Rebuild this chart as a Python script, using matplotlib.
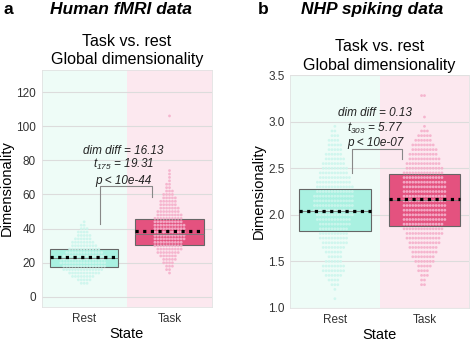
import numpy as np
import pandas as pd
import matplotlib
matplotlib.use("Agg")
import matplotlib.pyplot as plt
import seaborn as sns

plt.rcParams['font.family'] = ['Liberation Sans', 'DejaVu Sans']
plt.rcParams['mathtext.fontset'] = 'custom'
plt.rcParams['mathtext.it'] = 'Liberation Sans:italic'
plt.rcParams['mathtext.rm'] = 'Liberation Sans:italic'

# ---------------- data ----------------
states = ['Rest', 'Task']

# Human fMRI: swarm values (binned) and counts
fmri_rest_vals = [44, 42, 40, 38, 36, 34, 32, 30, 28, 26, 24, 22, 20, 18, 16, 14, 12, 10, 8]
fmri_rest_counts = [1, 2, 3, 4, 5, 6, 8, 9, 11, 13, 15, 16, 16, 15, 14, 11, 8, 5, 3]
fmri_task_vals = [106, 74, 72, 70, 68, 66, 64, 62, 60, 58, 56, 54, 52, 50, 48, 46, 44, 42, 40,
                  38, 36, 34, 32, 30, 28, 26, 24, 22, 20, 18, 16, 14]
fmri_task_counts = [1, 1, 1, 1, 1, 2, 2, 3, 4, 5, 6, 6, 7, 8, 9, 10, 10, 11, 11,
                    11, 11, 11, 10, 10, 9, 8, 6, 5, 4, 3, 2, 1]
fmri_q1 = [17.7, 30.4]
fmri_q3 = [27.9, 45.7]
fmri_median = [22.6, 36.9]
fmri_mean = [23.4, 38.6]

# NHP spiking: swarm values (binned) and counts
nhp_rest_vals = [2.95, 2.90, 2.85, 2.80, 2.75, 2.70, 2.65, 2.60, 2.55, 2.50, 2.45, 2.40, 2.35,
                 2.30, 2.25, 2.20, 2.15, 2.10, 2.05, 2.00, 1.95, 1.90, 1.85, 1.80, 1.75, 1.70,
                 1.65, 1.60, 1.55, 1.50, 1.45, 1.40, 1.35, 1.30, 1.25, 1.20, 1.10]
nhp_rest_counts = [1, 2, 3, 4, 5, 5, 6, 7, 8, 9, 10, 11, 12,
                   13, 13, 14, 14, 14, 14, 13, 12, 11, 10, 10, 10, 9,
                   8, 6, 5, 6, 8, 8, 6, 4, 3, 1, 1]
nhp_task_vals = [3.28, 3.05, 2.95, 2.90, 2.85, 2.80, 2.75, 2.70, 2.65, 2.60, 2.55, 2.50, 2.45,
                 2.40, 2.35, 2.30, 2.25, 2.20, 2.15, 2.10, 2.05, 2.00, 1.95, 1.90, 1.85, 1.80,
                 1.75, 1.70, 1.65, 1.60, 1.55, 1.50, 1.45, 1.40, 1.35, 1.30, 1.25]
nhp_task_counts = [2, 1, 1, 3, 5, 6, 8, 9, 10, 11, 12, 13, 14,
                   14, 15, 15, 15, 15, 15, 15, 15, 15, 15, 14, 14, 13,
                   12, 11, 10, 9, 8, 7, 5, 4, 3, 2, 2]
nhp_q1 = [1.826, 1.880]
nhp_q3 = [2.274, 2.434]
nhp_median = [2.04, 2.16]
nhp_mean = [2.044, 2.166]

fmri_text = ['dim diff = 16.13', r'$t_{175}$ = 19.31', 'p < 10e-44']
nhp_text = ['dim diff = 0.13', r'$t_{303}$ = 5.77', 'p < 10e-07']

# ---------------- style ----------------
bg_cols = ['#eefcf7', '#fce8ef']
box_cols = ['#a9f1e1', '#e4527f']
pt_cols = ['#cdf6ed', '#f5b0cb']


def make_df(rv, rc, tv, tc):
    r = np.repeat(np.array(rv, float), rc)
    t = np.repeat(np.array(tv, float), tc)
    return pd.DataFrame({'State': ['Rest'] * len(r) + ['Task'] * len(t),
                         'Dim': np.concatenate([r, t])})


def panel(ax, df, q1, q3, med, mean, ylim, yticks, texts, text_y, text_x, br):
    ax.axvspan(-0.5, 0.5, color=bg_cols[0], zorder=0, lw=0)
    ax.axvspan(0.5, 1.5, color=bg_cols[1], zorder=0, lw=0)
    x = np.arange(len(states))
    ax.bar(x, np.array(q3) - np.array(q1), bottom=q1, width=0.8, color=box_cols,
           edgecolor='#666666', linewidth=0.8, zorder=1.5)
    sns.swarmplot(data=df, x='State', y='Dim', hue='State', order=states,
                  palette=dict(zip(states, pt_cols)), size=2.0, linewidth=0,
                  legend=False, ax=ax, zorder=2, warn_thresh=1.0, alpha=0.9)
    for i in range(len(states)):
        ax.plot([i - 0.4, i + 0.4], [med[i], med[i]], color='#777777', lw=0.6, zorder=2.5)
        ax.plot([i - 0.4, i + 0.4], [mean[i], mean[i]], color='black', lw=2.3,
                linestyle=(0, (1.0, 1.4)), zorder=3)
    ax.set_xlim(-0.5, 1.5)
    ax.set_ylim(*ylim)
    ax.set_yticks(yticks)
    ax.set_xticks(x)
    ax.set_xticklabels(states)
    ax.grid(axis='y', color='#dcdcdc', lw=0.8)
    ax.grid(axis='x', visible=False)
    ax.set_axisbelow(True)
    ax.tick_params(length=0, labelsize=8.5, labelcolor='#333333', pad=4)
    for s in ax.spines.values():
        s.set_color('#e2e2e2')
        s.set_linewidth(0.6)
    ax.set_xlabel('State', fontsize=10.5, labelpad=2)
    ax.set_ylabel('Dimensionality', fontsize=10.5, labelpad=2)
    ax.set_title('Task vs. rest\nGlobal dimensionality', fontsize=11.5, pad=4, linespacing=1.3)
    for t, yy in zip(texts, text_y):
        ax.text(text_x, yy, t, ha='center', va='center', fontsize=8.5, style='italic',
                color='#222222', zorder=4)
    (x0, x1, y0, ytop, y1) = br
    ax.plot([x0, x0, x1, x1], [y0, ytop, ytop, y1], color='#888888', lw=0.8, zorder=4)


fig = plt.figure(figsize=(4.74, 3.41), dpi=100)
ax1 = fig.add_axes([0.0876, 0.0997, 0.36, 0.695])
ax2 = fig.add_axes([0.612, 0.0968, 0.378, 0.683])

df1 = make_df(fmri_rest_vals, fmri_rest_counts, fmri_task_vals, fmri_task_counts)
df2 = make_df(nhp_rest_vals, nhp_rest_counts, nhp_task_vals, nhp_task_counts)

panel(ax1, df1, fmri_q1, fmri_q3, fmri_median, fmri_mean, (-5.9, 132.9),
      [0, 20, 40, 60, 80, 100, 120], fmri_text, [85.4, 77.8, 67.8], 0.46,
      (0.19, 0.79, 42.7, 64.9, 58.5))
panel(ax2, df2, nhp_q1, nhp_q3, nhp_median, nhp_mean, (1.0, 3.5),
      [1.0, 1.5, 2.0, 2.5, 3.0, 3.5], nhp_text, [3.09, 2.93, 2.77], 0.45,
      (0.19, 0.75, 2.45, 2.71, 2.60))
ax2.set_yticklabels(['1.0', '1.5', '2.0', '2.5', '3.0', '3.5'])

fig.text(0.008, 0.972, 'a', fontsize=12.5, fontweight='bold', va='center')
fig.text(0.255, 0.972, 'Human fMRI data', fontsize=12.5, fontweight='bold', style='italic',
         ha='center', va='center')
fig.text(0.543, 0.972, 'b', fontsize=12.5, fontweight='bold', va='center')
fig.text(0.786, 0.972, 'NHP spiking data', fontsize=12.5, fontweight='bold', style='italic',
         ha='center', va='center')

fig.savefig('out.png', dpi=100)
